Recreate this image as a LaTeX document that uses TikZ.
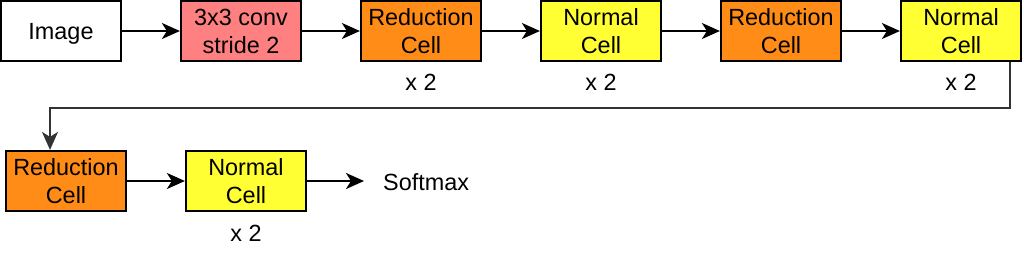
\documentclass[tikz,border=0pt]{standalone}
\usepackage{fontspec}
\setmainfont{Liberation Sans}
\usetikzlibrary{arrows.meta}
\definecolor{convred}{HTML}{FF8080}
\definecolor{redorange}{HTML}{FF8C17}
\definecolor{normyellow}{HTML}{FFFF33}
\tikzset{
  cellbox/.style={draw=black, line width=2.2pt, minimum width=120pt, minimum height=60pt, inner sep=0pt, align=center, font=\fontsize{23.4}{28}\selectfont},
  lbl/.style={font=\fontsize{23.4}{28}\selectfont, inner sep=0pt, text depth=0pt},
  arr/.style={line width=2.2pt, -{Stealth[length=18pt, width=16pt, inset=5pt]}},
  retarr/.style={line width=1.8pt, draw=black!80, -{Stealth[length=18pt, width=16pt, inset=5pt]}, color=black!80}
}
\begin{document}
\begin{tikzpicture}[x=1pt, y=-1pt]
\useasboundingbox (0,0) rectangle (1024,252);
\node[cellbox, fill=white, text depth=0pt] (img) at (61,31) {Image};
\node[cellbox, fill=convred] (conv) at (241,31) {3x3 conv\\stride 2};
\node[cellbox, fill=redorange] (r1) at (421,31) {Reduction\\Cell};
\node[cellbox, fill=normyellow] (n1) at (601,31) {Normal\\Cell};
\node[cellbox, fill=redorange] (r2) at (781,31) {Reduction\\Cell};
\node[cellbox, fill=normyellow] (n2) at (961,31) {Normal\\Cell};
\node[cellbox, fill=redorange] (r3) at (66,181) {Reduction\\Cell};
\node[cellbox, fill=normyellow] (n3) at (246,181) {Normal\\Cell};
\node[lbl, anchor=west] (sm) at (383,182) {Softmax};
\node[lbl] (x1) at (421,82) {x 2};
\node[lbl] (x2) at (601,82) {x 2};
\node[lbl] (x3) at (961,82) {x 2};
\node[lbl] (x4) at (246,233) {x 2};
\coordinate (c1) at (1010,108);
\coordinate (c2) at (50,108);
\coordinate (smin) at (364,181);
\draw[arr] (img) -- (conv);
\draw[arr] (conv) -- (r1);
\draw[arr] (r1) -- (n1);
\draw[arr] (n1) -- (r2);
\draw[arr] (r2) -- (n2);
\draw[retarr] (n2.south -| c1) -- (c1) -- (c2) -- (r3.north -| c2);
\draw[arr] (r3) -- (n3);
\draw[arr] (n3) -- (smin);
\end{tikzpicture}
\end{document}
